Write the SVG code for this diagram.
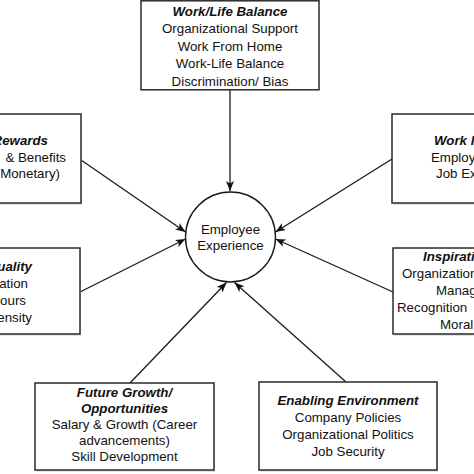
<svg xmlns="http://www.w3.org/2000/svg" width="474" height="474" viewBox="0 0 474 474">
<defs>
<style>
.box{fill:#fff;stroke:#2a2a2a;stroke-width:1.5}
.sh{fill:#e2e2e2}
.t{font-family:"Liberation Sans",Arial,sans-serif;font-size:13.3px;fill:#111}
.h{font-weight:bold;font-style:italic}
.m{text-anchor:middle}
.e{text-anchor:end}
.c{fill:none;stroke:#1a1a1a;stroke-width:1.3;marker-end:url(#arr)}
</style>
<marker id="arr" markerUnits="userSpaceOnUse" markerWidth="12" markerHeight="10" refX="10" refY="4" orient="auto">
<path d="M0,0 L10,4 L0,8 L2.5,4 z" fill="#111"/>
</marker>
</defs>
<rect width="474" height="474" fill="#fff"/>

<g id="connectors">
<line class="c" x1="230" y1="90" x2="230" y2="191"/>
<line class="c" x1="81" y1="160" x2="185.5" y2="232"/>
<line class="c" x1="80" y1="292" x2="185.5" y2="239"/>
<line class="c" x1="392" y1="159" x2="275.5" y2="232"/>
<line class="c" x1="393" y1="292" x2="275.5" y2="239"/>
<line class="c" x1="130" y1="383" x2="226.5" y2="282.5"/>
<line class="c" x1="346" y1="382" x2="234.5" y2="282.5"/>
</g>

<g id="center">
<circle cx="230.5" cy="237" r="45" fill="#fff" stroke="#1a1a1a" stroke-width="1.4"/>
<text class="t m" x="230.5" y="234">Employee</text>
<text class="t m" x="230.5" y="250">Experience</text>
</g>

<g id="work-life">
<rect class="box" x="141" y="0.8" width="178" height="89"/>
<text class="t h m" x="230" y="15.5">Work/Life Balance</text>
<text class="t m" x="230" y="33">Organizational Support</text>
<text class="t m" x="230" y="50.5">Work From Home</text>
<text class="t m" x="230" y="68">Work-Life Balance</text>
<text class="t m" x="230" y="85.5">Discrimination/ Bias</text>
</g>

<g id="rewards">
<rect class="sh" x="-20" y="116" width="102" height="89"/>
<rect class="box" x="-20" y="114" width="101" height="89"/>
<text class="t h e" x="48" y="145">Rewards</text>
<text class="t e" x="66" y="161.5">&amp; Benefits</text>
<text class="t e" x="60" y="178">(Monetary)</text>
</g>

<g id="quality">
<rect class="sh" x="-20" y="250" width="101" height="86"/>
<rect class="box" x="-20" y="248" width="100" height="86"/>
<text class="t h e" x="32" y="271">Quality</text>
<text class="t e" x="28" y="288">ation</text>
<text class="t e" x="26" y="305">Hours</text>
<text class="t e" x="32" y="322">ensity</text>
</g>

<g id="work-right">
<rect class="sh" x="393" y="116" width="110" height="89"/>
<rect class="box" x="392" y="114" width="110" height="89"/>
<text class="t h" x="434" y="145">Work I</text>
<text class="t" x="431" y="161.5">Employ</text>
<text class="t" x="436" y="178">Job Ex</text>
</g>

<g id="inspiration">
<rect class="sh" x="394" y="250" width="110" height="86"/>
<rect class="box" x="393" y="248" width="110" height="86"/>
<text class="t h" x="423" y="261">Inspiration</text>
<text class="t" x="402" y="278">Organizational</text>
<text class="t" x="436" y="295">Management</text>
<text class="t" x="397" y="312">Recognition</text>
<text class="t" x="440" y="329">Moral</text>
</g>

<g id="future-growth">
<rect class="sh" x="36" y="385" width="179" height="87"/>
<rect class="box" x="35" y="383" width="179" height="87"/>
<text class="t h m" x="124.5" y="397">Future Growth/</text>
<text class="t h m" x="124.5" y="413">Opportunities</text>
<text class="t m" x="124.5" y="429">Salary &amp; Growth (Career</text>
<text class="t m" x="124.5" y="445">advancements)</text>
<text class="t m" x="124.5" y="461">Skill Development</text>
</g>

<g id="enabling">
<rect class="sh" x="260" y="384" width="178" height="88"/>
<rect class="box" x="259" y="382" width="178" height="88"/>
<text class="t h m" x="348" y="404.5">Enabling Environment</text>
<text class="t m" x="348" y="421.5">Company Policies</text>
<text class="t m" x="348" y="439">Organizational Politics</text>
<text class="t m" x="348" y="456">Job Security</text>
</g>
</svg>
